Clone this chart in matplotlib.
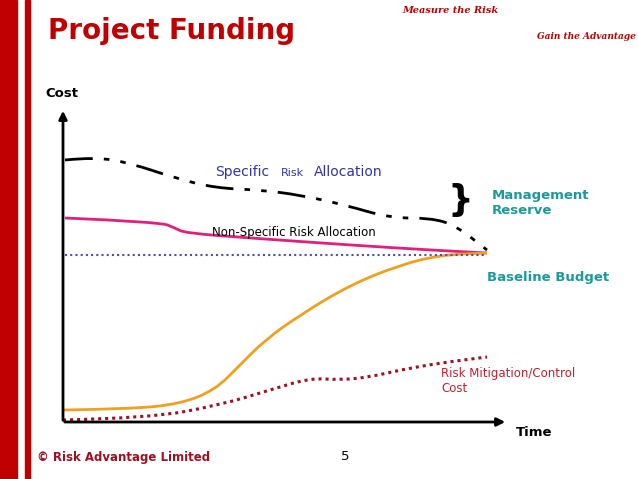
import matplotlib
matplotlib.use("Agg")
import matplotlib.pyplot as plt
from matplotlib.patches import Rectangle, PathPatch
from matplotlib.path import Path

# values read in slide pixels (x right, y down); origin of chart axes at (63, 422)
contingency_x = [65, 95, 130, 175, 215, 260, 300, 345, 390, 430, 455, 487]
contingency_y = [160, 157, 163, 178, 188, 190, 195, 205, 218, 218, 225, 250]
nonspec_x = [65, 160, 175, 185, 250, 350, 430, 487]
nonspec_y = [218, 222, 228, 233, 238, 245, 250, 253]
baseline_x = [65, 487]
baseline_y = [255, 255]
spend_x = [63, 130, 180, 215, 240, 265, 300, 350, 400, 440, 487]
spend_y = [410, 409, 404, 390, 365, 340, 315, 285, 265, 255, 253]
mitig_x = [63, 150, 220, 270, 310, 340, 370, 400, 440, 487]
mitig_y = [420, 418, 405, 390, 378, 380, 377, 370, 363, 357]

RED = "#c00000"
TEAL = "#1a9a9a"


def smooth(ax, xs, ys, **kw):
    """Draw a smooth curve through the points using quadratic segments at midpoints."""
    pts = list(zip(xs, ys))
    verts = [pts[0]]
    codes = [Path.MOVETO]
    for i in range(1, len(pts) - 1):
        mid = ((pts[i][0] + pts[i + 1][0]) / 2, (pts[i][1] + pts[i + 1][1]) / 2)
        verts += [pts[i], mid]
        codes += [Path.CURVE3, Path.CURVE3]
    verts.append(pts[-1])
    codes.append(Path.LINETO)
    ax.add_patch(PathPatch(Path(verts, codes), fill=False, **kw))


fig = plt.figure(figsize=(6.38, 4.79), dpi=100)
ax = fig.add_axes([0, 0, 1, 1])
ax.set_xlim(0, 638)
ax.set_ylim(479, 0)
ax.axis("off")

# red side bars
ax.add_patch(Rectangle((0, 0), 17, 479, color=RED))
ax.add_patch(Rectangle((25, 0), 5, 479, color=RED))

ax.text(48, 31, "Project Funding", color=RED, fontsize=20, fontweight="bold", va="center")
ax.text(450, 10, "Measure the Risk", color=RED, fontsize=7, fontweight="bold",
        style="italic", family="DejaVu Serif", va="center", ha="center")
ax.text(586, 36, "Gain the Advantage", color=RED, fontsize=6.5, fontweight="bold",
        style="italic", family="DejaVu Serif", va="center", ha="center")

# axes with arrows
ax.annotate("", xy=(63, 108), xytext=(63, 423),
            arrowprops=dict(arrowstyle="-|>", color="black", lw=2, mutation_scale=12))
ax.annotate("", xy=(508, 422), xytext=(62, 422),
            arrowprops=dict(arrowstyle="-|>", color="black", lw=2, mutation_scale=12))
ax.text(45, 93, "Cost", fontsize=9.5, fontweight="bold", va="center")
ax.text(516, 432, "Time", fontsize=9.5, fontweight="bold", va="center")

smooth(ax, contingency_x, contingency_y, color="black", lw=2, ls=(0, (10, 4, 2, 4, 2, 4)))
smooth(ax, nonspec_x, nonspec_y, color="#e0207a", lw=2)
ax.plot(baseline_x, baseline_y, color="#5050a0", lw=1.5, ls=(0, (1, 1.5)))
smooth(ax, spend_x, spend_y, color="#f0a020", lw=2)
smooth(ax, mitig_x, mitig_y, color="#a01020", lw=2.2, ls=(0, (1, 1.3)))

ax.text(215, 172, "Specific", color="#3333aa", fontsize=10, va="center")
ax.text(281, 173, "Risk", color="#3333aa", fontsize=8, va="center")
ax.text(314, 172, "Allocation", color="#3333aa", fontsize=10, va="center")
ax.text(212, 232, "Non-Specific Risk Allocation", color="black", fontsize=8.5, va="center")
ax.text(460, 200, "}", fontsize=26, fontweight="bold", va="center", ha="center")
ax.text(492, 203, "Management\nReserve", color=TEAL, fontsize=9.5, fontweight="bold",
        va="center", linespacing=1.3)
ax.text(487, 278, "Baseline Budget", color=TEAL, fontsize=9.5, fontweight="bold", va="center")
ax.text(441, 381, "Risk Mitigation/Control\nCost", color="#c02030", fontsize=8.5,
        va="center", linespacing=1.3)

ax.text(37, 457, "\u00a9 Risk Advantage Limited", color="#a01020", fontsize=8.5,
        fontweight="bold", va="center")
ax.text(345, 457, "5", fontsize=9.5, va="center", ha="center")

fig.savefig("out.png", dpi=100)
